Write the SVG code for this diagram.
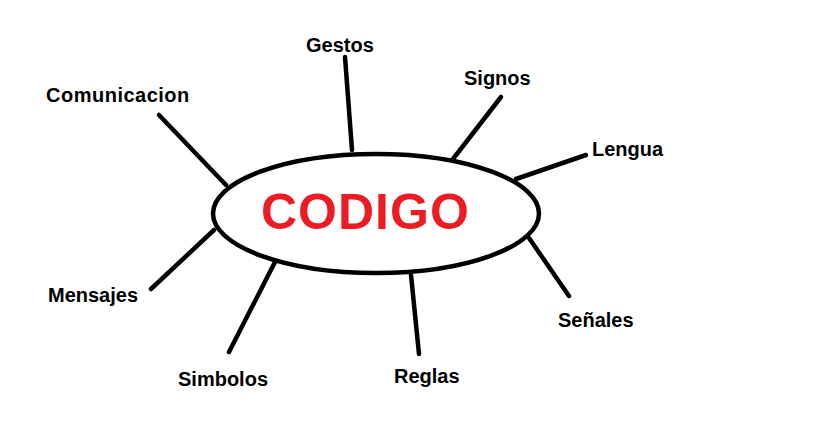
<svg xmlns="http://www.w3.org/2000/svg" width="822" height="432" viewBox="0 0 822 432">
<style>
.lbl{font-family:"Liberation Sans",Arial,sans-serif;font-weight:bold;font-size:20px;fill:#000}
.ln{stroke:#000;stroke-width:4.5;stroke-linecap:round;fill:none}
.title{font-family:"Liberation Sans",Arial,sans-serif;font-weight:bold;font-size:50px;fill:#ED1C24;letter-spacing:1px}
</style>
<rect width="822" height="432" fill="#fff"/>
<g id="connectors">
<line class="ln" x1="345" y1="57" x2="352" y2="150"/>
<line class="ln" x1="501" y1="97" x2="453" y2="159"/>
<line class="ln" x1="586" y1="155" x2="516" y2="179"/>
<line class="ln" x1="159" y1="115" x2="226" y2="185"/>
<line class="ln" x1="151" y1="289" x2="214" y2="230"/>
<line class="ln" x1="229" y1="352" x2="275" y2="262"/>
<line class="ln" x1="419" y1="354" x2="411" y2="275"/>
<line class="ln" x1="569" y1="296" x2="529" y2="238"/>
</g>
<g id="codigo">
<ellipse cx="376" cy="213.5" rx="163" ry="59.5" fill="#fff" stroke="#000" stroke-width="4.5"/>
<text class="title" x="261" y="229">CODIGO</text>
</g>
<g id="gestos"><text class="lbl" x="306" y="52">Gestos</text></g>
<g id="signos"><text class="lbl" x="464" y="85">Signos</text></g>
<g id="lengua"><text class="lbl" x="592" y="156">Lengua</text></g>
<g id="comunicacion"><text class="lbl" x="46" y="102" style="letter-spacing:0.5px">Comunicacion</text></g>
<g id="mensajes"><text class="lbl" x="48" y="302">Mensajes</text></g>
<g id="simbolos"><text class="lbl" x="178" y="386">Simbolos</text></g>
<g id="reglas"><text class="lbl" x="394" y="383">Reglas</text></g>
<g id="senales"><text class="lbl" x="558" y="327">Señales</text></g>
</svg>
